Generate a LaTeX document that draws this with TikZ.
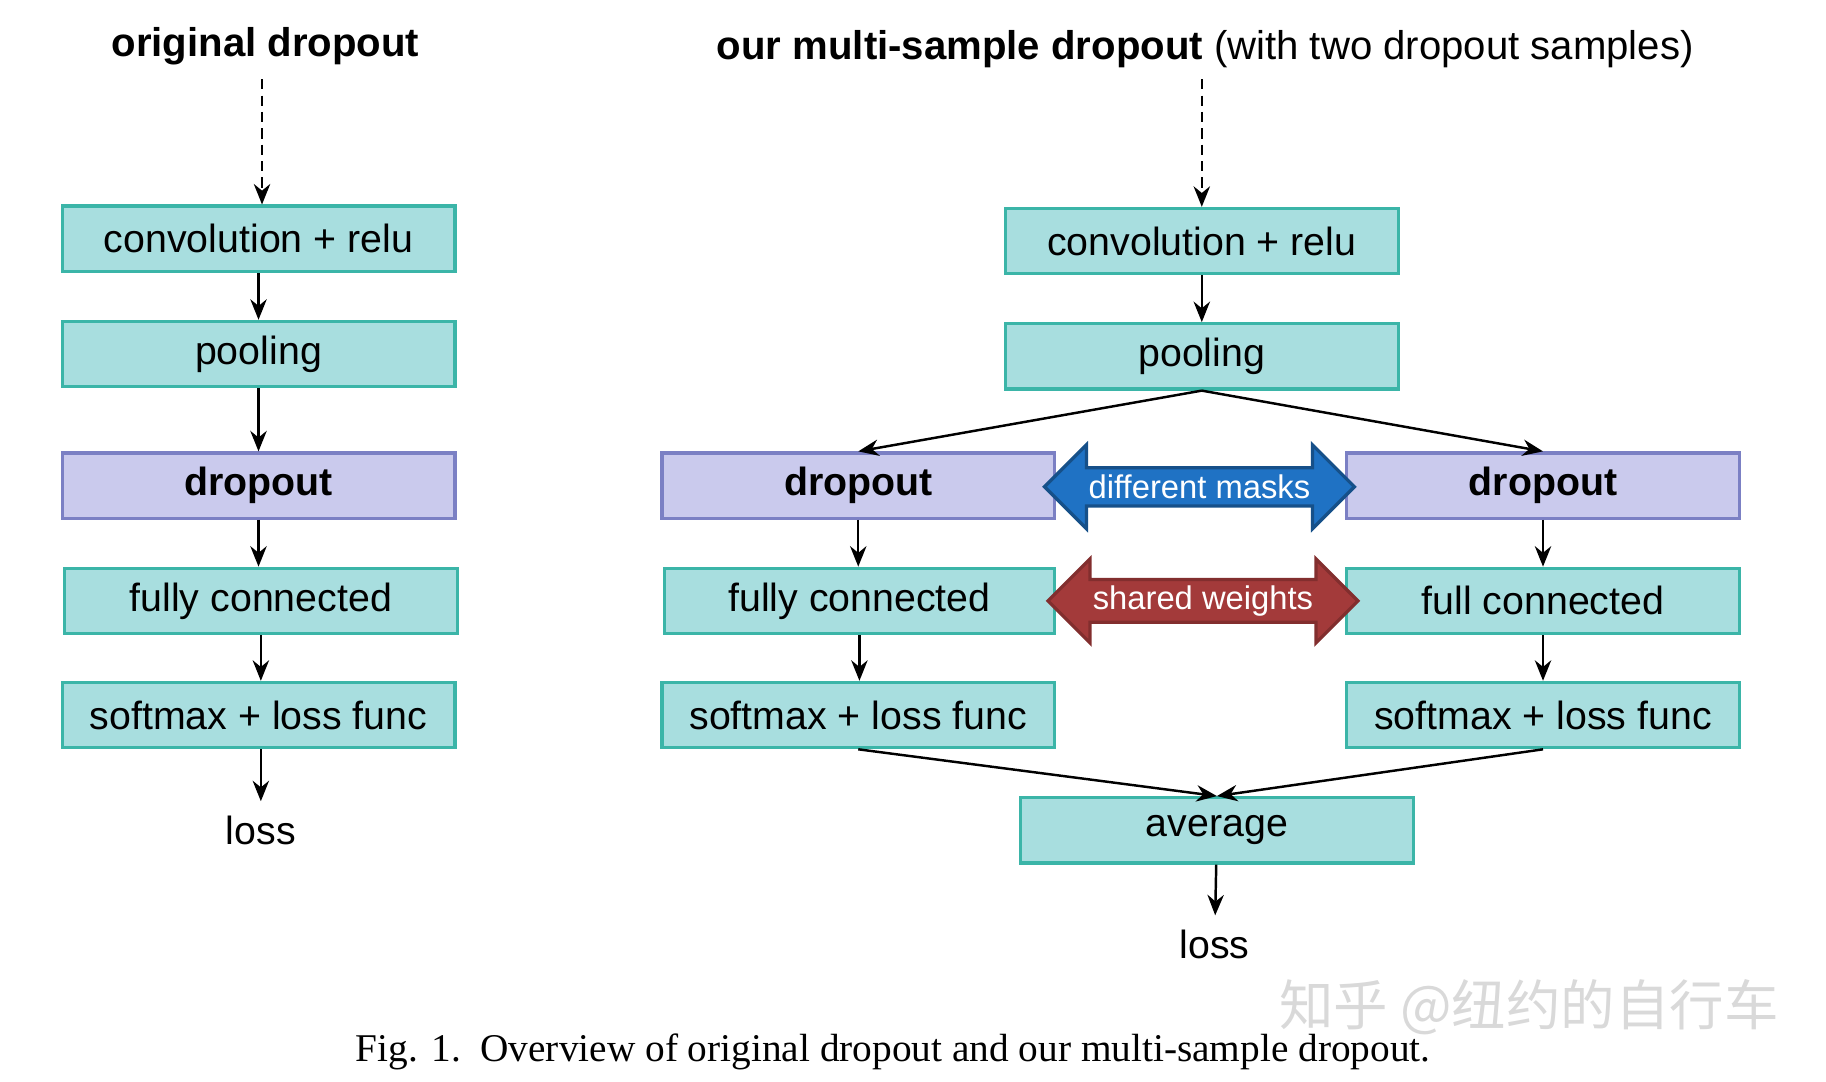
\documentclass[tikz,border=0pt]{standalone}
\usepackage{fontspec}
\setmainfont{Liberation Sans}
\newfontfamily\capfont{Liberation Serif}
\newfontfamily\cjk{Noto Sans CJK SC}
\usetikzlibrary{shapes.arrows,arrows.meta}
\definecolor{tealfill}{HTML}{A8DEDF}
\definecolor{tealdraw}{HTML}{3BB5A8}
\definecolor{purfill}{HTML}{CACAED}
\definecolor{purdraw}{HTML}{7B80C4}
\definecolor{bluearr}{HTML}{1F72C4}
\definecolor{redarr}{HTML}{A33A3A}
\begin{document}
\begin{tikzpicture}[x=0.01cm,y=-0.01cm,
  box/.style={draw=tealdraw,fill=tealfill,line width=0.8pt,minimum width=3.37cm,minimum height=0.56cm,inner sep=0pt,font=\fontsize{9.6}{11}\selectfont},
  dbox/.style={box,draw=purdraw,fill=purfill,font=\fontsize{9.6}{11}\selectfont\bfseries},
  arr/.style={-{Stealth[length=5pt,width=4pt]},line width=0.6pt},
  dsh/.style={dash pattern=on 2.5pt off 1.5pt},
  dbl/.style={double arrow,double arrow head extend=0.14cm,minimum height=2.66cm,minimum width=0.72cm,inner sep=0pt,text=white,font=\fontsize{8}{10}\selectfont,line width=0.8pt}]
\useasboundingbox (0,0) rectangle (1568,929);
% left
\node[font=\fontsize{9.8}{11}\selectfont\bfseries] (t1) at (228,40) {original dropout};
\coordinate (s1) at (225,68);
\node[box] (c1) at (222,205) {convolution + relu};
\node[box] (p1) at (222,304) {pooling};
\node[dbox] (d1) at (222,417) {dropout};
\node[box] (f1) at (224,516) {fully connected};
\node[box] (sm1) at (222,614) {softmax + loss func};
\node[font=\fontsize{9.6}{11}\selectfont,anchor=north] (l1) at (224,688) {loss};
\draw[arr,dsh] (s1) -- (s1 |- c1.north);
\draw[arr] (c1) -- (p1);
\draw[arr] (p1) -- (d1);
\draw[arr] (d1) -- (d1 |- f1.north);
\draw[arr] (f1) -- (f1 |- sm1.north);
\draw[arr] (sm1.south) ++(2,0) coordinate (q1) -- (q1 |- l1.north);
% right
\node[anchor=base,font=\fontsize{9.8}{11}\selectfont] (t2) at (1035,51) {\textbf{our multi-sample dropout} (with two dropout samples)};
\coordinate (s2) at (1032,68);
\node[box] (c2) at (1032,207) {convolution + relu};
\node[box] (p2) at (1032,306) {pooling};
\node[dbox] (dl) at (737,417) {dropout};
\node[dbox] (dr) at (1325,417) {dropout};
\node[box,minimum width=3.35cm] (fl) at (738,516) {fully connected};
\node[box] (fr) at (1325,516) {full connected};
\node[box] (sl) at (737,614) {softmax + loss func};
\node[box] (sr) at (1325,614) {softmax + loss func};
\node[box] (av) at (1045,713) {average};
\node[font=\fontsize{9.6}{11}\selectfont,anchor=north] (l2) at (1043,786) {loss};
\draw[arr,dsh] (s2) -- (c2.north);
\draw[arr] (c2) -- (p2);
\draw[arr] (p2.south) -- (dl.north);
\draw[arr] (p2.south) -- (dr.north);
\draw[arr] (dl) -- (dl |- fl.north);
\draw[arr] (dr) -- (dr |- fr.north);
\draw[arr] (fl) -- (fl |- sl.north);
\draw[arr] (fr) -- (fr |- sr.north);
\draw[arr] (sl.south) -- (av.north);
\draw[arr] (sr.south) -- (av.north);
\draw[arr] (av) -- (l2);
\node[dbl,fill=bluearr,draw=bluearr!70!black] (m) at (1030,418) {different masks};
\node[dbl,fill=redarr,draw=redarr!80!black] (w) at (1033,516) {shared weights};
% watermark and caption
\node[font=\cjk\fontsize{13.3}{15}\selectfont,text=black!15] (wm) at (1313,865) {知乎 @纽约的自行车};
\node[font=\capfont\fontsize{9.6}{11}\selectfont] (cap) at (767,903) {Fig. 1.\ \ Overview of original dropout and our multi-sample dropout.};
\end{tikzpicture}
\end{document}
